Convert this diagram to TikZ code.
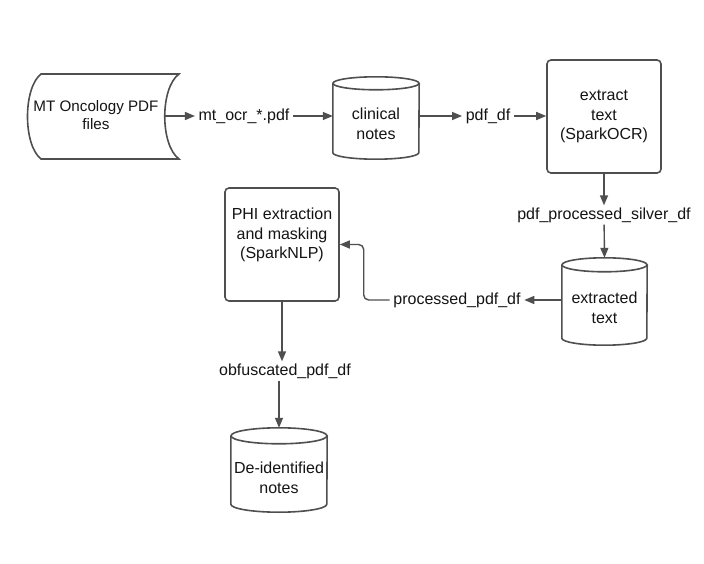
\documentclass[tikz,border=0pt]{standalone}
\usepackage{fontspec}
\setmainfont{Liberation Sans}
\usetikzlibrary{arrows.meta,calc}
\definecolor{ln}{HTML}{4F4F4F}
\definecolor{tx}{HTML}{141414}
\tikzset{
  shapeline/.style={draw=ln, line width=1.6pt},
  conn/.style={draw=ln, line width=1.4pt, -{Triangle[length=10pt,width=8pt]}},
  txt/.style={font=\fontsize{16}{19.5}\selectfont, align=center, text=tx},
  lab/.style={txt, inner xsep=3.5pt, inner ysep=2pt},
  body/.style={txt, inner sep=0pt, draw=none},
  procbox/.style={shapeline, rounded corners=4pt, minimum width=114pt, minimum height=113pt, inner sep=0pt}
}
\newcommand\drawcyl[3]{%
  \draw[shapeline] (#1.north west) -- ($(#1.south west)+(0,#3pt)$)
    arc[start angle=180,end angle=360,x radius=#2pt,y radius=#3pt] -- (#1.north east);
  \draw[shapeline] (#1.north) ellipse[x radius=#2pt, y radius=#3pt];
}
\begin{document}
\begin{tikzpicture}[x=1pt,y=1pt]
\useasboundingbox (0,0) rectangle (704,563);
\fill[white] (0,0) rectangle (704,563);

% source stored data shape
\draw[shapeline] (41,489) -- (179,489) .. controls (160,475) and (160,418) .. (179,404)
  -- (41,404) .. controls (23,418) and (23,475) .. (41,489) -- cycle;
\node[body, font=\fontsize{15.2}{18.5}\selectfont] (src) at (96,448) {MT Oncology PDF\\files};
\coordinate (srcR) at (165,447);

% cylinders
\node[body, minimum width=86pt, minimum height=75.5pt] (clin) at (376,441.75) {};
\drawcyl{clin}{43}{6.5}
\node[body] (clint) at (376,439) {clinical\\notes};
\node[body, minimum width=85pt, minimum height=80pt] (ext) at (604.5,258) {};
\drawcyl{ext}{42.5}{7}
\node[body] (extt) at (604.5,255) {extracted\\text};
\node[body, minimum width=96pt, minimum height=76pt] (deid) at (279,89) {};
\drawcyl{deid}{48}{8}
\node[body] (deidt) at (279,85) {De-identified\\notes};

% process boxes
\node[procbox, txt] (ocr) at (604,446.5) {extract\\text\\(SparkOCR)};
\node[procbox] (phi) at (282,318.5) {};
\node[body] (phit) at (282,328) {PHI extraction\\and masking\\(SparkNLP)};

% labels
\node[lab] (l1) at (244,447) {mt\_ocr\_*.pdf};
\node[lab] (l2) at (488,447) {pdf\_df};
\node[lab] (l3) at (604,348) {pdf\_processed\_silver\_df};
\node[lab] (l4) at (457,263) {processed\_pdf\_df};
\node[lab] (l5) at (285,192) {obfuscated\_pdf\_df};

% connectors
\draw[conn] (srcR) -- (l1);
\draw[conn] (l1) -- (l1 -| clin.west);
\draw[conn] (l2 -| clin.east) -- (l2);
\draw[conn] (l2) -- (l2 -| ocr.west);
\draw[conn] (ocr) -- (l3);
\draw[conn] (l3) -- ([yshift=7pt]ext.north);
\draw[conn] (l4 -| ext.west) -- (l4);
\draw[conn, rounded corners=5pt] (l4.west) -- ++(-26,0) |- (phi.east);
\draw[conn] (phi.south) -- (phi.south |- l5.north);
\draw[conn] (l5.south -| deid) -- ([yshift=8pt]deid.north);
\end{tikzpicture}
\end{document}
